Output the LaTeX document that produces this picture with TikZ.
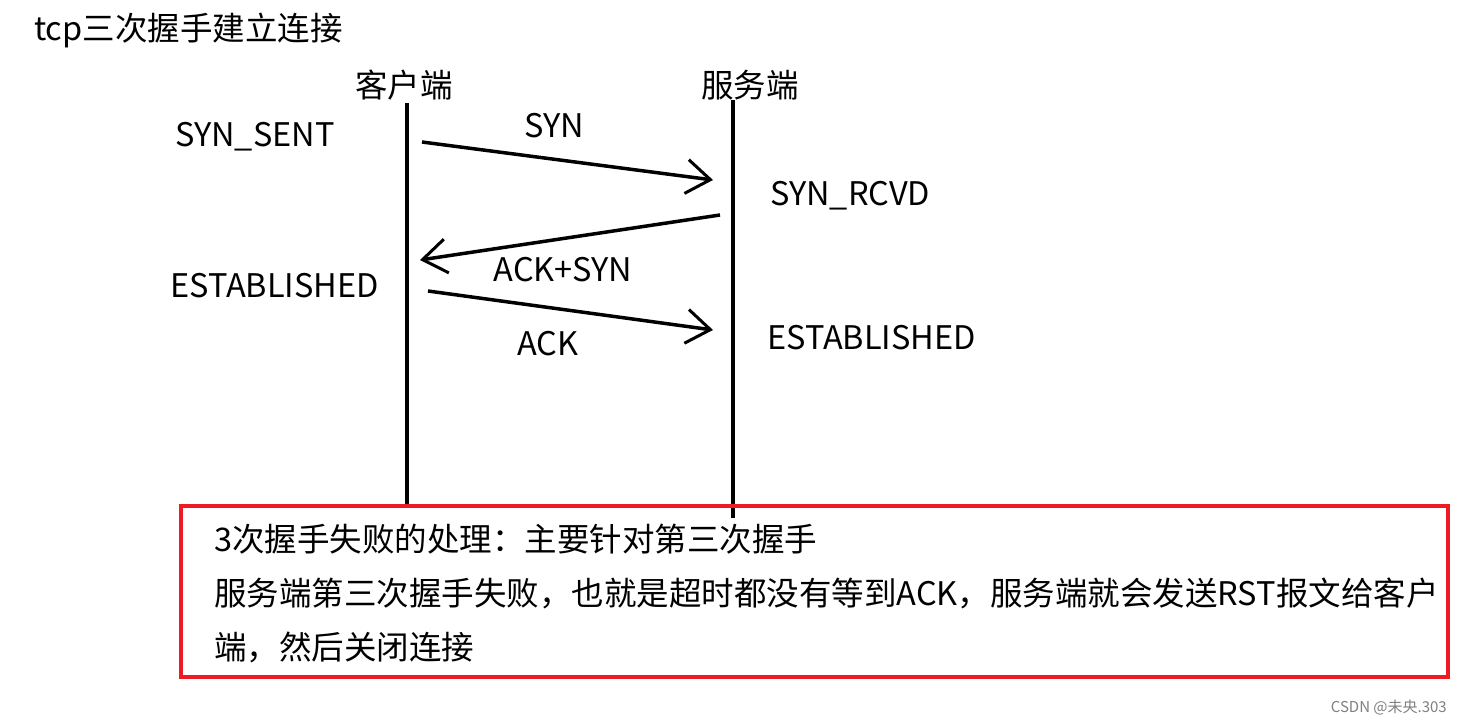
\documentclass[tikz,border=0pt]{standalone}
\usepackage{fontspec}
\setmainfont{Noto Sans CJK SC}
\usetikzlibrary{arrows.meta}
\definecolor{boxred}{RGB}{237,28,36}
\tikzset{
  lbl/.style={font=\fontsize{32.5}{34}\selectfont, inner sep=0pt},
  msg/.style={line width=3.5pt, -{Straight Barb[length=24pt,width=34pt,line width=3pt]}},
  life/.style={line width=3.5pt},
  boxtxt/.style={font=\fontsize{32.5}{34}\selectfont, inner sep=0pt, anchor=west}
}
\begin{document}
\begin{tikzpicture}[x=1pt,y=-1pt]
\useasboundingbox[fill=white] (0,0) rectangle (1461,725);
\node[lbl, anchor=west] (title) at (34,30) {tcp三次握手建立连接};
\node[lbl] (client) at (404,85) {客户端};
\node[lbl] (server) at (750,85) {服务端};
\coordinate (c0) at (407,103); \coordinate (c1) at (407,505);
\coordinate (s0) at (733,100); \coordinate (s1) at (733,518);
\draw[life] (c0) -- (c1);
\draw[life] (s0) -- (s1);
\node[lbl, anchor=west] (synsent) at (175,137) {SYN\_SENT};
\node[lbl, anchor=west] (synrcvd) at (770,196) {SYN\_RCVD};
\node[lbl, anchor=west] (estc) at (170,286) {ESTABLISHED};
\node[lbl, anchor=west] (ests) at (767,338) {ESTABLISHED};
\coordinate (a1s) at (422,142); \coordinate (a1e) at (713,180);
\coordinate (a2s) at (720,215); \coordinate (a2e) at (420,260);
\coordinate (a3s) at (428,291); \coordinate (a3e) at (713,330);
\draw[msg] (a1s) -- (a1e);
\draw[msg] (a2s) -- (a2e);
\draw[msg] (a3s) -- (a3e);
\node[lbl] (syn) at (554,126) {SYN};
\node[lbl] (acksyn) at (563,270) {ACK+SYN};
\node[lbl] (ack) at (548,344) {ACK};
\node[draw=boxred, line width=4pt, minimum width=1267pt, minimum height=171pt, inner sep=0pt] (box) at (814.5,591.5) {};
\node[boxtxt] (t1) at (214,539) {3次握手失败的处理：主要针对第三次握手};
\node[boxtxt] (t2) at (214,593) {服务端第三次握手失败，也就是超时都没有等到ACK，服务端就会发送RST报文给客户};
\node[boxtxt] (t3) at (214,647) {端，然后关闭连接};
\node[font=\fontsize{15}{16}\selectfont, text=gray, anchor=east, inner sep=0pt] (wm) at (1447,707) {CSDN @未央.303};
\end{tikzpicture}
\end{document}
